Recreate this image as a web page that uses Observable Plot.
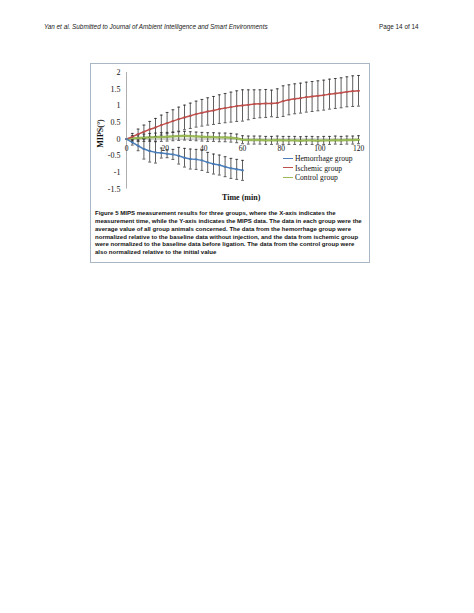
<!DOCTYPE html>
<html><head><meta charset="utf-8">
<script src="https://cdn.jsdelivr.net/npm/d3@7"></script>
<script src="https://cdn.jsdelivr.net/npm/@observablehq/plot@0.6"></script>
<style>
html,body{margin:0;padding:0;background:#fff;}
#page{position:relative;width:474px;height:613px;overflow:hidden;background:#fff;}
.hdr{position:absolute;font-family:"Liberation Sans",sans-serif;font-size:6.35px;color:#222;white-space:nowrap;}
#box{position:absolute;left:90px;top:63px;width:278px;height:198px;border:1.3px solid #a9b6c4;}
#chart{position:absolute;left:91px;top:64px;}
.ttl{position:absolute;font-family:"Liberation Serif",serif;font-weight:bold;font-size:8px;color:#111;white-space:nowrap;}
.leg{position:absolute;font-family:"Liberation Serif",serif;font-size:7.6px;color:#111;white-space:nowrap;line-height:9.5px;}
.leg .sw{display:inline-block;width:10px;height:0;border-top:1.6px solid;vertical-align:middle;margin-right:2px;position:relative;top:-1px;}
#cap{position:absolute;left:95px;top:210px;width:275px;font-family:"Liberation Sans",sans-serif;font-weight:bold;font-size:6.05px;line-height:7.85px;color:#111;white-space:nowrap;}
</style></head>
<body><div id="page">
<div class="hdr" style="left:44px;top:23px;font-style:italic;">Yan et al. Submitted to Journal of Ambient Intelligence and Smart Environments</div>
<div class="hdr" style="left:379px;top:23px;">Page 14 of 14</div>
<div id="box"></div>
<div id="chart"></div>
<div class="ttl" id="ytitle" style="left:84px;top:129px;transform:rotate(-90deg);transform-origin:50% 50%;width:32px;text-align:center;">MIPS(°)</div>
<div class="ttl" style="left:222px;top:193px;">Time (min)</div>
<div class="leg" style="left:283px;top:154px;">
<div><span class="sw" style="border-color:#4a7ebb"></span>Hemorrhage group</div>
<div><span class="sw" style="border-color:#c0504d"></span>Ischemic group</div>
<div><span class="sw" style="border-color:#9bbb59"></span>Control group</div>
</div>
<div id="cap">
Figure 5 MIPS measurement results for three groups, where the X-axis indicates the<br>
measurement time, while the Y-axis indicates the MIPS data. The data in each group were the<br>
average value of all group animals concerned. The data from the hemorrhage group were<br>
normalized relative to the baseline data without injection, and the data from ischemic group<br>
were normalized to the baseline data before ligation. The data from the control group were<br>
also normalized relative to the initial value
</div>
</div>
<script>
// Time points (min)
const timeLong = [0,3,6,9,12,15,18,21,24,27,30,33,36,39,42,45,48,51,54,57,60,63,66,69,72,75,78,81,84,87,90,93,96,99,102,105,108,111,114,117,120];
const timeShort = [0,3,6,9,12,15,18,21,24,27,30,33,36,39,42,45,48,51,54,57,60];

const ischemicMean = [0,0.07,0.15,0.22,0.29,0.35,0.42,0.48,0.54,0.6,0.65,0.7,0.75,0.79,0.83,0.86,0.9,0.93,0.96,0.99,1.01,1.03,1.05,1.06,1.07,1.07,1.08,1.14,1.18,1.21,1.23,1.26,1.28,1.3,1.32,1.35,1.37,1.39,1.42,1.44,1.45];
const ischemicErr = [0,0.1,0.15,0.2,0.24,0.27,0.3,0.32,0.34,0.36,0.37,0.38,0.39,0.4,0.41,0.42,0.43,0.44,0.45,0.46,0.47,0.45,0.43,0.42,0.42,0.4,0.43,0.46,0.45,0.45,0.45,0.45,0.45,0.45,0.45,0.45,0.45,0.45,0.45,0.46,0.46];

const controlMean = [0,0.02,0.03,0.04,0.05,0.06,0.06,0.07,0.08,0.09,0.1,0.09,0.08,0.07,0.06,0.06,0.05,0.05,0.04,0.02,-0.02,-0.03,-0.03,-0.03,-0.04,-0.04,-0.03,-0.04,-0.04,-0.04,-0.05,-0.04,-0.04,-0.05,-0.04,-0.04,-0.03,-0.04,-0.03,-0.03,-0.02];
const controlErr = [0,0.08,0.1,0.11,0.12,0.12,0.13,0.13,0.13,0.13,0.13,0.13,0.13,0.13,0.13,0.13,0.13,0.13,0.13,0.13,0.12,0.12,0.12,0.12,0.12,0.12,0.12,0.12,0.12,0.12,0.12,0.12,0.12,0.12,0.12,0.12,0.12,0.12,0.12,0.12,0.12];

const hemorrhageMean = [0,-0.1,-0.2,-0.3,-0.36,-0.4,-0.42,-0.44,-0.46,-0.5,-0.56,-0.6,-0.61,-0.64,-0.7,-0.75,-0.78,-0.83,-0.88,-0.91,-0.94];
const hemorrhageErr = [0,0.08,0.15,0.3,0.33,0.32,0.15,0.12,0.15,0.25,0.28,0.3,0.3,0.3,0.3,0.3,0.3,0.3,0.3,0.3,0.3];

const yTicks = [-1.5,-1,-0.5,0,0.5,1,1.5,2];
const xTicks = [0,20,40,60,80,100,120];

const groups = [
  {name:"Control group", color:"#9bbb59", t:timeLong, m:controlMean, e:controlErr, w:2.4},
  {name:"Ischemic group", color:"#c0504d", t:timeLong, m:ischemicMean, e:ischemicErr, w:1.5},
  {name:"Hemorrhage group", color:"#4a7ebb", t:timeShort, m:hemorrhageMean, e:hemorrhageErr, w:1.5}
];
const rows = groups.flatMap(g => g.t.map((t,i) => ({group:g.name, color:g.color, w:g.w, t, m:g.m[i], e:g.e[i]})));

const dash = {draw(ctx, size){ const r = Math.sqrt(size)/2; ctx.moveTo(-r,0); ctx.lineTo(r,0); }};

const marks = [
  Plot.ruleX([0], {stroke:"#9a9a9a", strokeWidth:0.8}),
  Plot.ruleY([0], {stroke:"#9a9a9a", strokeWidth:0.8}),
  Plot.text(yTicks, {x:0, y:d=>d, text:d=>String(d), textAnchor:"end", dx:-6, fontSize:8, fill:"#111"}),
  Plot.text(xTicks, {x:d=>d, y:0, text:d=>String(d), dy:10, fontSize:7.5, fill:"#111"})
];
for (const g of groups) {
  const data = rows.filter(r => r.group === g.name);
  marks.push(Plot.line(data, {x:"t", y:"m", stroke:g.color, strokeWidth:g.w}));
}
for (const g of groups) {
  const data = rows.filter(r => r.group === g.name && r.e > 0);
  marks.push(Plot.ruleX(data, {x:"t", y1:d=>d.m - d.e, y2:d=>d.m + d.e, stroke:"#2a2a2a", strokeWidth:0.75}));
  marks.push(Plot.dot(data, {x:"t", y:d=>d.m + d.e, symbol:dash, r:1.6, stroke:"#2a2a2a", strokeWidth:0.8, fill:"none"}));
  marks.push(Plot.dot(data, {x:"t", y:d=>d.m - d.e, symbol:dash, r:1.6, stroke:"#2a2a2a", strokeWidth:0.8, fill:"none"}));
}
for (const g of groups) {
  const data = rows.filter(r => r.group === g.name);
  marks.push(Plot.dot(data, {x:"t", y:"m", symbol:dash, r:1.5, stroke:g.color, strokeWidth:1.6, fill:"none"}));
}

const chart = Plot.plot({
  width: 279, height: 142,
  marginLeft: 35, marginRight: 12, marginTop: 8, marginBottom: 17.5,
  x: {domain:[0,120], axis:null},
  y: {domain:[-1.5,2], axis:null},
  style: {background:"transparent", fontFamily:"Liberation Serif, serif", overflow:"visible"},
  marks
});
document.getElementById("chart").appendChild(chart);
</script>
</body></html>
